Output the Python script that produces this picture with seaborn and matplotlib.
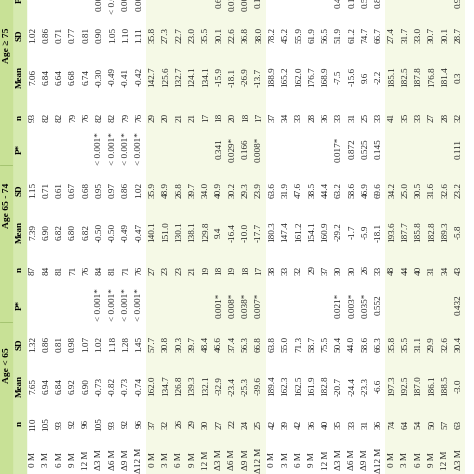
import matplotlib
matplotlib.use("Agg")
import matplotlib.pyplot as plt
import matplotlib.transforms as mtransforms
from matplotlib.colors import ListedColormap
import seaborn as sns
import numpy as np
import pandas as pd

# row labels (4 blocks, last one cut off in the picture)
block = ['0 M', '3 M', '6 M', '9 M', '12 M', 'Δ3 M', 'Δ6 M', 'Δ9 M', 'Δ12 M']
labels = block * 3 + block[:6]

# Age < 65
n1 = [110, 105, 93, 92, 96, 105, 93, 92, 96,
      37, 32, 26, 29, 30, 27, 22, 24, 25,
      42, 39, 42, 36, 40, 35, 33, 31, 36,
      74, 64, 54, 50, 57, 63]
mean1 = ['7.65', '6.94', '6.84', '6.92', '6.90', '-0.73', '-0.82', '-0.73', '-0.74',
         '162.0', '134.7', '126.8', '139.3', '132.1', '-32.9', '-23.4', '-25.3', '-39.6',
         '189.4', '162.3', '162.5', '161.9', '182.8', '-20.7', '-24.4', '-23.3', '-6.6',
         '197.3', '192.5', '187.0', '186.1', '188.5', '-3.0']
sd1 = ['1.32', '0.86', '0.81', '0.98', '1.07', '1.02', '1.18', '1.28', '1.45',
       '57.7', '30.8', '30.3', '39.7', '48.4', '46.6', '37.4', '56.3', '66.8',
       '63.8', '55.0', '71.3', '58.7', '75.5', '50.4', '44.0', '58.6', '66.3',
       '35.8', '35.5', '31.1', '29.9', '32.6', '30.4']
p1 = ['', '', '', '', '', '< 0.001*', '< 0.001*', '< 0.001*', '< 0.001*',
      '', '', '', '', '', '0.001*', '0.008*', '0.038*', '0.007*',
      '', '', '', '', '', '0.021*', '0.003*', '0.035*', '0.552',
      '', '', '', '', '', '0.432']

# Age 65 - 74
n2 = [87, 84, 81, 71, 76, 84, 81, 71, 76,
      27, 23, 23, 21, 19, 18, 19, 18, 17,
      38, 33, 32, 29, 37, 30, 30, 26, 33,
      48, 44, 40, 31, 34, 43]
mean2 = ['7.39', '6.90', '6.82', '6.80', '6.82', '-0.50', '-0.50', '-0.49', '-0.47',
         '140.1', '151.0', '130.1', '138.1', '129.8', '9.4', '-16.4', '-10.0', '-17.7',
         '180.3', '147.4', '161.2', '154.1', '160.9', '-29.2', '-1.7', '-5.9', '-18.1',
         '193.6', '187.7', '185.8', '182.8', '189.3', '-5.8']
sd2 = ['1.15', '0.71', '0.61', '0.67', '0.68', '0.95', '0.97', '0.86', '1.02',
       '35.9', '48.9', '26.8', '39.7', '34.0', '40.9', '30.2', '29.3', '23.9',
       '63.6', '31.9', '47.6', '38.5', '44.4', '63.2', '58.6', '46.9', '69.6',
       '34.2', '25.0', '30.5', '31.6', '32.6', '23.2']
p2 = ['', '', '', '', '', '< 0.001*', '< 0.001*', '< 0.001*', '< 0.001*',
      '', '', '', '', '', '0.341', '0.029*', '0.166', '0.008*',
      '', '', '', '', '', '0.017*', '0.872', '0.525', '0.145',
      '', '', '', '', '', '0.111']

# Age >= 75
n3 = [93, 82, 82, 79, 76, 82, 82, 79, 76,
      29, 20, 21, 21, 17, 18, 20, 18, 17,
      37, 34, 33, 28, 36, 33, 31, 25, 33,
      41, 35, 33, 27, 28, 32]
mean3 = ['7.06', '6.84', '6.64', '6.68', '6.74', '-0.30', '-0.49', '-0.41', '-0.42',
         '142.7', '125.6', '132.7', '124.1', '134.1', '-15.9', '-18.1', '-26.9', '-13.7',
         '188.9', '165.2', '162.0', '176.7', '168.9', '-7.5', '-15.6', '9.6', '-2.2',
         '185.1', '182.5', '187.8', '176.8', '181.4', '0.3']
sd3 = ['1.02', '0.86', '0.71', '0.77', '0.81', '0.90', '1.05', '1.10', '1.11',
       '35.8', '27.3', '22.7', '23.0', '35.5', '30.1', '22.6', '36.8', '38.0',
       '78.2', '45.2', '55.9', '61.9', '56.5', '51.9', '61.2', '74.7', '66.7',
       '27.4', '31.7', '33.0', '30.7', '30.1', '28.7']
p3 = ['', '', '', '', '', '0.002*', '< 0.001*', '0.003*', '0.004*',
      '', '', '', '', '', '0.602', '0.019*', '0.009*', '0.149',
      '', '', '', '', '', '0.469', '0.188', '0.556', '0.850',
      '', '', '', '', '', '0.958']

df = pd.DataFrame({'label': labels, 'n1': n1, 'mean1': mean1, 'sd1': sd1, 'p1': p1,
                   'n2': n2, 'mean2': mean2, 'sd2': sd2, 'p2': p2,
                   'n3': n3, 'mean3': mean3, 'sd3': sd3, 'p3': p3})
nrows = len(df)

# vertical position (pixels from top) of each column band
col_y = {'label': 460, 'n1': 424, 'mean1': 386, 'sd1': 344, 'p1': 305,
         'n2': 270, 'mean2': 232, 'sd2': 190, 'p2': 149,
         'n3': 117, 'mean3': 77, 'sd3': 35, 'p3': -2}

fig = plt.figure(figsize=(4.74, 4.74), dpi=100)
ax = fig.add_axes([0, 0, 1, 1])
shade = np.array([[(i // 9) % 2 for i in range(nrows)]])
sns.heatmap(shade, ax=ax, cmap=ListedColormap(['white', '#f5f9e6']), cbar=False,
            xticklabels=False, yticklabels=False)
ax.set_xlim(-1.98, 33.66)
ax.set_ylim(1, 0)
ax.axis('off')

# header band on the left
ax.axvspan(-1.98, 0.0, color='#d6eab0', zorder=2)
ax.axvspan(-1.98, -1.05, color='#c8e196', zorder=2)

tr = mtransforms.blended_transform_factory(ax.transData, ax.transAxes)
font = 'Liberation Serif'
for c, ypx in col_y.items():
    yf = 1 - ypx / 474
    for i, v in enumerate(df[c]):
        ax.text(i + 0.5, yf, str(v), transform=tr, rotation=90, ha='center',
                va='center', fontsize=6.6, family=font, color='#222222', zorder=3)

heads = {'n1': 'n', 'mean1': 'Mean', 'sd1': 'SD', 'p1': 'P*',
         'n2': 'n', 'mean2': 'Mean', 'sd2': 'SD', 'p2': 'P*',
         'n3': 'n', 'mean3': 'Mean', 'sd3': 'SD', 'p3': 'P*'}
for c, h in heads.items():
    ax.text(-0.5, 1 - col_y[c] / 474, h, transform=tr, rotation=90, ha='center',
            va='center', fontsize=6.6, family=font, weight='bold', zorder=3)

groups = [('Age < 65', 365), ('Age 65 - 74', 205), ('Age ≥ 75', 45)]
for g, ypx in groups:
    ax.text(-1.45, 1 - ypx / 474, g, transform=tr, rotation=90, ha='center',
            va='center', fontsize=6.8, family=font, weight='bold', zorder=3)
for ypx in [322, 165]:
    ax.plot([-1.98, -1.05], [ypx / 474, ypx / 474], color='#9fbf6a', lw=0.6, zorder=3)

fig.savefig('out.png', dpi=100)
